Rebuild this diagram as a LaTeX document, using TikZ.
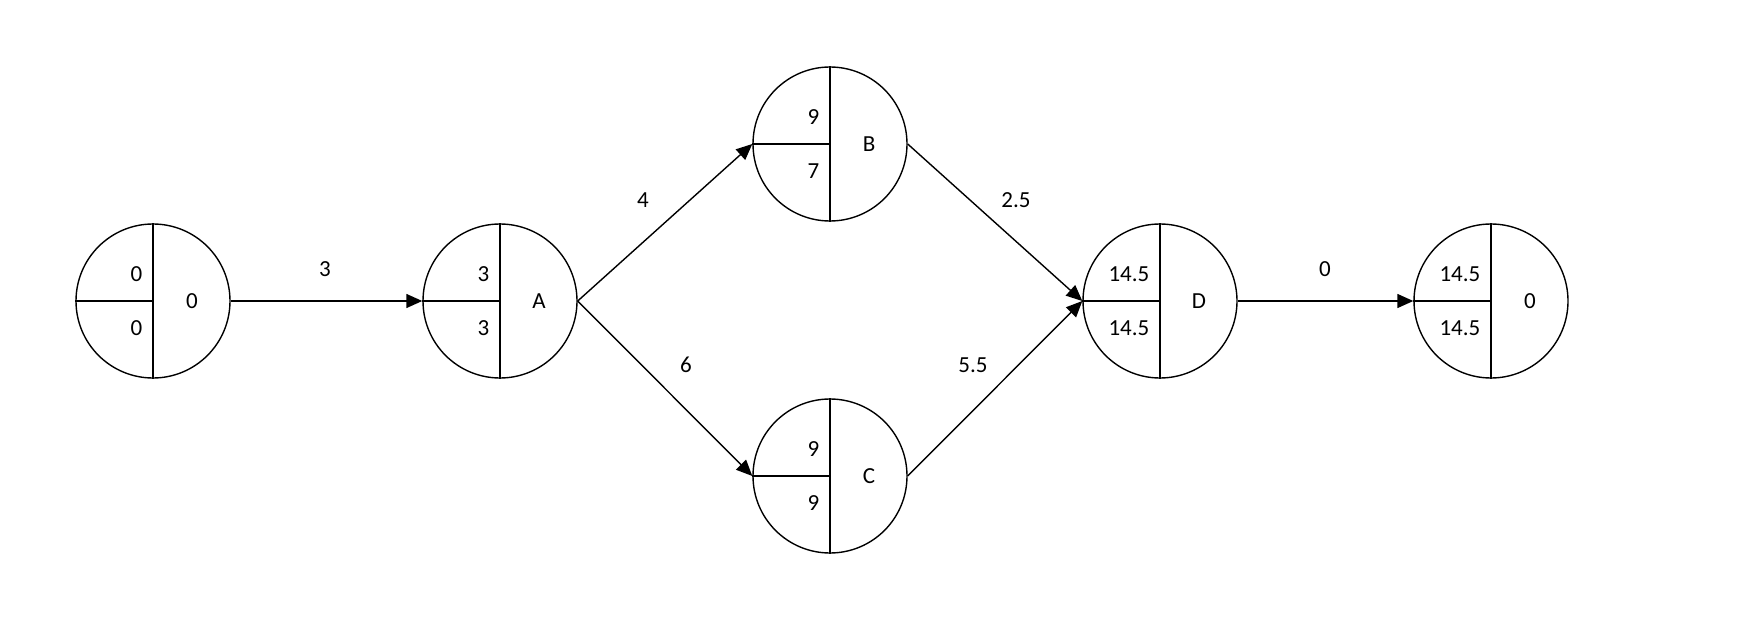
\documentclass[tikz,border=0pt]{standalone}
\usepackage{fontspec}
\setmainfont{Carlito}
\usetikzlibrary{arrows.meta}
\begin{document}
\begin{tikzpicture}[x=1pt,y=-1pt,line width=1.4pt,
  ev/.style={circle,draw,minimum size=154pt,inner sep=0pt},
  num/.style={font=\fontsize{23}{23}\selectfont,inner sep=0pt},
  arr/.style={-{Triangle[length=16pt,width=14pt]}}]
\useasboundingbox (0,0) rectangle (1750,644);
\foreach \n/\x/\y/\a/\b/\l in {s/153/301/0/0/0, A/500/301/3/3/A, B/830/144/7/9/B, C/830/476/9/9/C, D/1160/301/14.5/14.5/D, E/1491/301/14.5/14.5/0}{
  \node[ev] (\n) at (\x,\y) {};
  \draw (\n.north) -- (\n.south);
  \draw (\n.west) -- (\n.center);
  \node[num,anchor=east] (\n a) at ([xshift=-10pt,yshift=-27pt]\n.center) {\a};
  \node[num,anchor=east] (\n b) at ([xshift=-10pt,yshift=27pt]\n.center) {\b};
  \node[num] (\n l) at ([xshift=39pt]\n.center) {\l};
}
\draw[arr] (s.east) -- (A.west);
\draw[arr] (A.east) -- (B.west);
\draw[arr] (A.east) -- (C.west);
\draw[arr] (B.east) -- (D.west);
\draw[arr] (C.east) -- (D.west);
\draw[arr] (D.east) -- (E.west);
\node[num] (l1) at (325,269) {3};
\node[num] (l2) at (643,200) {4};
\node[num] (l3) at (686,365) {6};
\node[num] (l4) at (1016,200) {2.5};
\node[num] (l5) at (973,365) {5.5};
\node[num] (l6) at (1325,269) {0};
\end{tikzpicture}
\end{document}
